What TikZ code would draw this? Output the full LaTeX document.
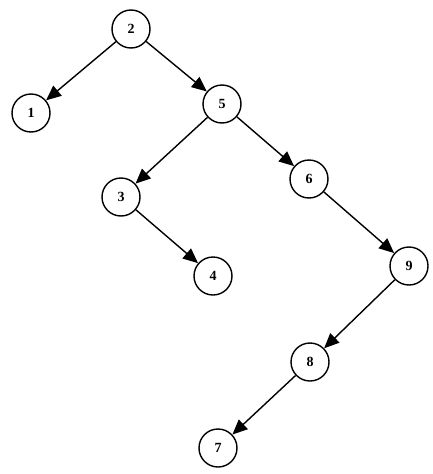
\documentclass[tikz,border=0pt]{standalone}
\usepackage{fontspec}
\setmainfont{Liberation Serif}
\usetikzlibrary{arrows.meta}
\begin{document}
\begin{tikzpicture}[x=1pt,y=-1pt,
  tnode/.style={circle,draw,line width=1.4pt,minimum size=38pt,inner sep=0pt,font=\fontsize{14}{14}\selectfont\bfseries},
  edge/.style={line width=1.4pt,-{Triangle[length=15pt,width=13pt]}}]
\useasboundingbox (0,0) rectangle (433,474);
\node[tnode] (n2) at (131,29) {2};
\node[tnode] (n1) at (31,113) {1};
\node[tnode] (n5) at (222,104) {5};
\node[tnode] (n3) at (121,197) {3};
\node[tnode] (n6) at (309,179) {6};
\node[tnode] (n4) at (213,276) {4};
\node[tnode] (n9) at (409,266) {9};
\node[tnode] (n8) at (310,362) {8};
\node[tnode] (n7) at (218,448) {7};
\draw[edge] (n2) -- (n1);
\draw[edge] (n2) -- (n5);
\draw[edge] (n5) -- (n3);
\draw[edge] (n5) -- (n6);
\draw[edge] (n3) -- (n4);
\draw[edge] (n6) -- (n9);
\draw[edge] (n9) -- (n8);
\draw[edge] (n8) -- (n7);
\end{tikzpicture}
\end{document}
